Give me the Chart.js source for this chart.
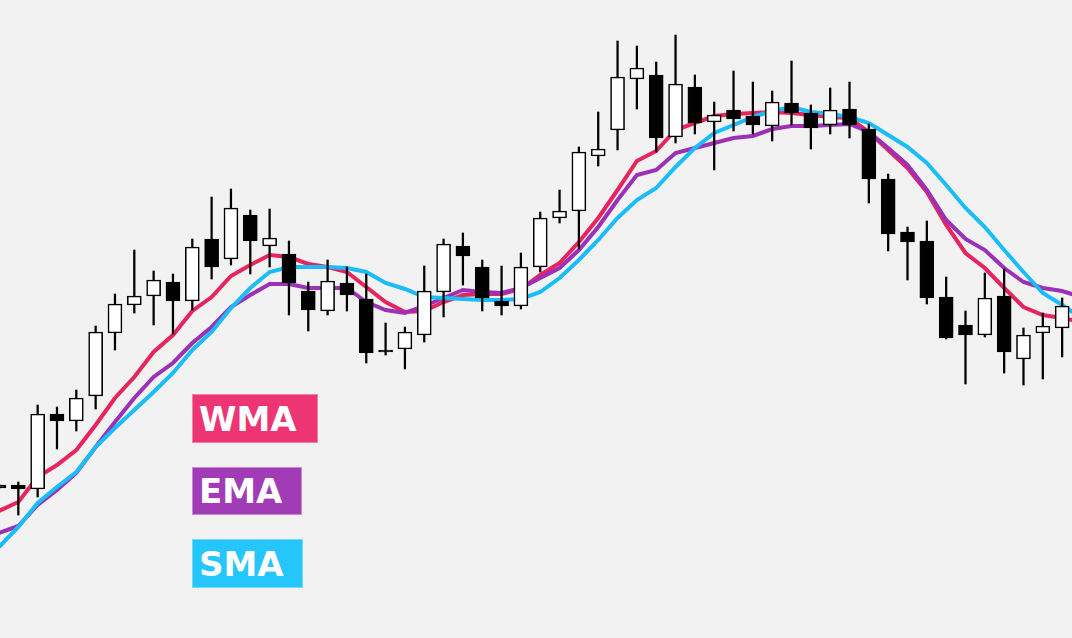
<!DOCTYPE html>
<html>
<head>
<meta charset="utf-8">
<script src="https://cdn.jsdelivr.net/npm/chart.js@4.4.1/dist/chart.umd.min.js"></script>
<style>
  html, body { margin: 0; padding: 0; background: #f2f2f2; }
  #wrap { position: relative; width: 1072px; height: 638px; overflow: hidden; background: #f2f2f2; }
  #c { position: absolute; left: 0; top: 0; }
  .tag { position: absolute; left: 192px; box-sizing: border-box; color: #fff;
         font-family: "DejaVu Sans", Verdana, sans-serif; font-weight: bold; font-size: 34px;
         line-height: 1; display: flex; align-items: center; padding-left: 6px; }
</style>
</head>
<body>
<div id="wrap">
  <canvas id="c" width="1072" height="638"></canvas>
  <div class="tag" id="t0" style="top:394px;width:126px;height:49px;background:#ec3572;border:1px solid #f27fa5;">WMA</div>
  <div class="tag" id="t1" style="top:467px;width:110px;height:48px;background:#a23cb6;border:1px solid #c78bd3;">EMA</div>
  <div class="tag" id="t2" style="top:539px;width:111px;height:49px;background:#24c6fc;border:1px solid #74dafd;">SMA</div>
</div>
<script>
// ---- data (price units) ----
const candleIdx = [0,1,2,3,4,5,6,7,8,9,10,11,12,13,14,15,16,17,18,19,20,21,22,23,24,25,26,27,28,29,30,31,32,33,34,35,36,37,38,39,40,41,42,43,44,45,46,47,48,49,50,51,52,53,54,55];
const openVals  = [153,153,149,224,217,242,305,333,342,356,337,399,379,423,392,384,347,327,355,339,288,289,303,346,392,371,337,332,371,420,427,482,508,559,563,501,551,516,528,522,512,535,525,513,529,509,459,406,397,341,313,303,342,279,305,310];
const highVals  = [154,156,233,231,248,312,344,388,367,364,399,441,449,428,429,397,356,378,371,364,315,311,372,399,405,378,372,385,426,448,491,526,597,592,576,603,563,536,567,556,547,577,533,550,556,514,464,411,417,361,327,365,369,310,325,340];
const lowVals   = [149,123,141,189,207,229,288,325,313,304,328,359,373,364,371,323,307,323,327,275,283,269,296,321,353,327,323,329,366,415,389,472,488,529,486,495,504,468,507,504,497,513,489,504,500,435,387,358,334,299,254,301,265,253,259,281];
const closeVals = [150,149,224,217,240,306,334,342,358,337,391,371,430,397,400,355,328,357,343,285,286,306,347,394,382,340,332,371,420,427,486,489,561,570,500,554,515,523,519,513,536,525,510,528,513,459,404,396,340,300,303,340,286,303,312,332];

const lineIdx = [0,1,2,3,4,5,6,7,8,9,10,11,12,13,14,15,16,17,18,19,20,21,22,23,24,25,26,27,28,29,30,31,32,33,34,35,36,37,38,39,40,41,42,43,44,45,46,47,48,49,50,51,52,53,54,55,56];
const wmaVals = [127,136,161,173,188,213,240,261,286,303,327,341,362,373,383,381,374,371,366,351,336,326,327,336,343,344,344,349,363,375,396,420,448,477,487,508,515,522,524,525,526,525,523,521,520,506,488,470,446,413,385,370,350,331,323,320,316];
const emaVals = [105,112,133,148,165,191,216,240,261,275,295,311,331,343,354,354,350,350,350,336,328,325,332,340,348,346,345,350,360,370,388,411,438,463,468,485,490,495,500,502,509,512,512,513,514,506,490,473,448,418,399,388,370,356,350,347,341];
const smaVals = [91,111,135,151,166,191,210,228,246,265,288,306,330,350,366,371,371,371,370,366,355,349,341,340,339,338,338,339,346,360,378,398,420,438,450,471,490,505,513,521,527,531,526,524,521,515,503,491,475,453,430,411,388,366,345,333,320];

const seriesNames = ["WMA", "EMA", "SMA"];
const seriesColors = ["#e8245e", "#9c30b6", "#1bbcfa"];

// ---- build datasets ----
const wickData = candleIdx.map((x, i) => ({ x: x, y: [lowVals[i], highVals[i]] }));
const bodyData = candleIdx.map((x, i) => ({ x: x, y: [openVals[i], closeVals[i]] }));
const isUp = candleIdx.map((x, i) => closeVals[i] >= openVals[i]);
const lineSeries = [wmaVals, emaVals, smaVals];

const lineDatasets = lineSeries.map((vals, k) => ({
  type: 'line',
  label: seriesNames[k],
  data: lineIdx.map((x, i) => ({ x: x, y: vals[i] })),
  borderColor: seriesColors[k],
  borderWidth: 4,
  pointRadius: 0,
  tension: 0,
  fill: false,
  order: 5 + (2 - k)
}));

new Chart(document.getElementById('c'), {
  type: 'bar',
  data: {
    datasets: [
      ...lineDatasets,
      {
        type: 'bar',
        label: 'wick',
        data: wickData,
        backgroundColor: '#000',
        borderWidth: 0,
        barThickness: 1.6,
        grouped: false,
        order: 2
      },
      {
        type: 'bar',
        label: 'body',
        data: bodyData,
        backgroundColor: candleIdx.map((x, i) => isUp[i] ? '#ffffff' : '#000000'),
        borderColor: '#000000',
        borderWidth: 1.6,
        borderSkipped: false,
        barThickness: 14,
        grouped: false,
        order: 1
      }
    ]
  },
  options: {
    responsive: false,
    animation: false,
    layout: { padding: 0 },
    plugins: { legend: { display: false }, tooltip: { enabled: false }, title: { display: false } },
    scales: {
      x: { type: 'linear', min: 0.052, max: 55.51, display: false, offset: false },
      y: { type: 'linear', min: 0, max: 638, display: false }
    }
  }
});
</script>
</body>
</html>
